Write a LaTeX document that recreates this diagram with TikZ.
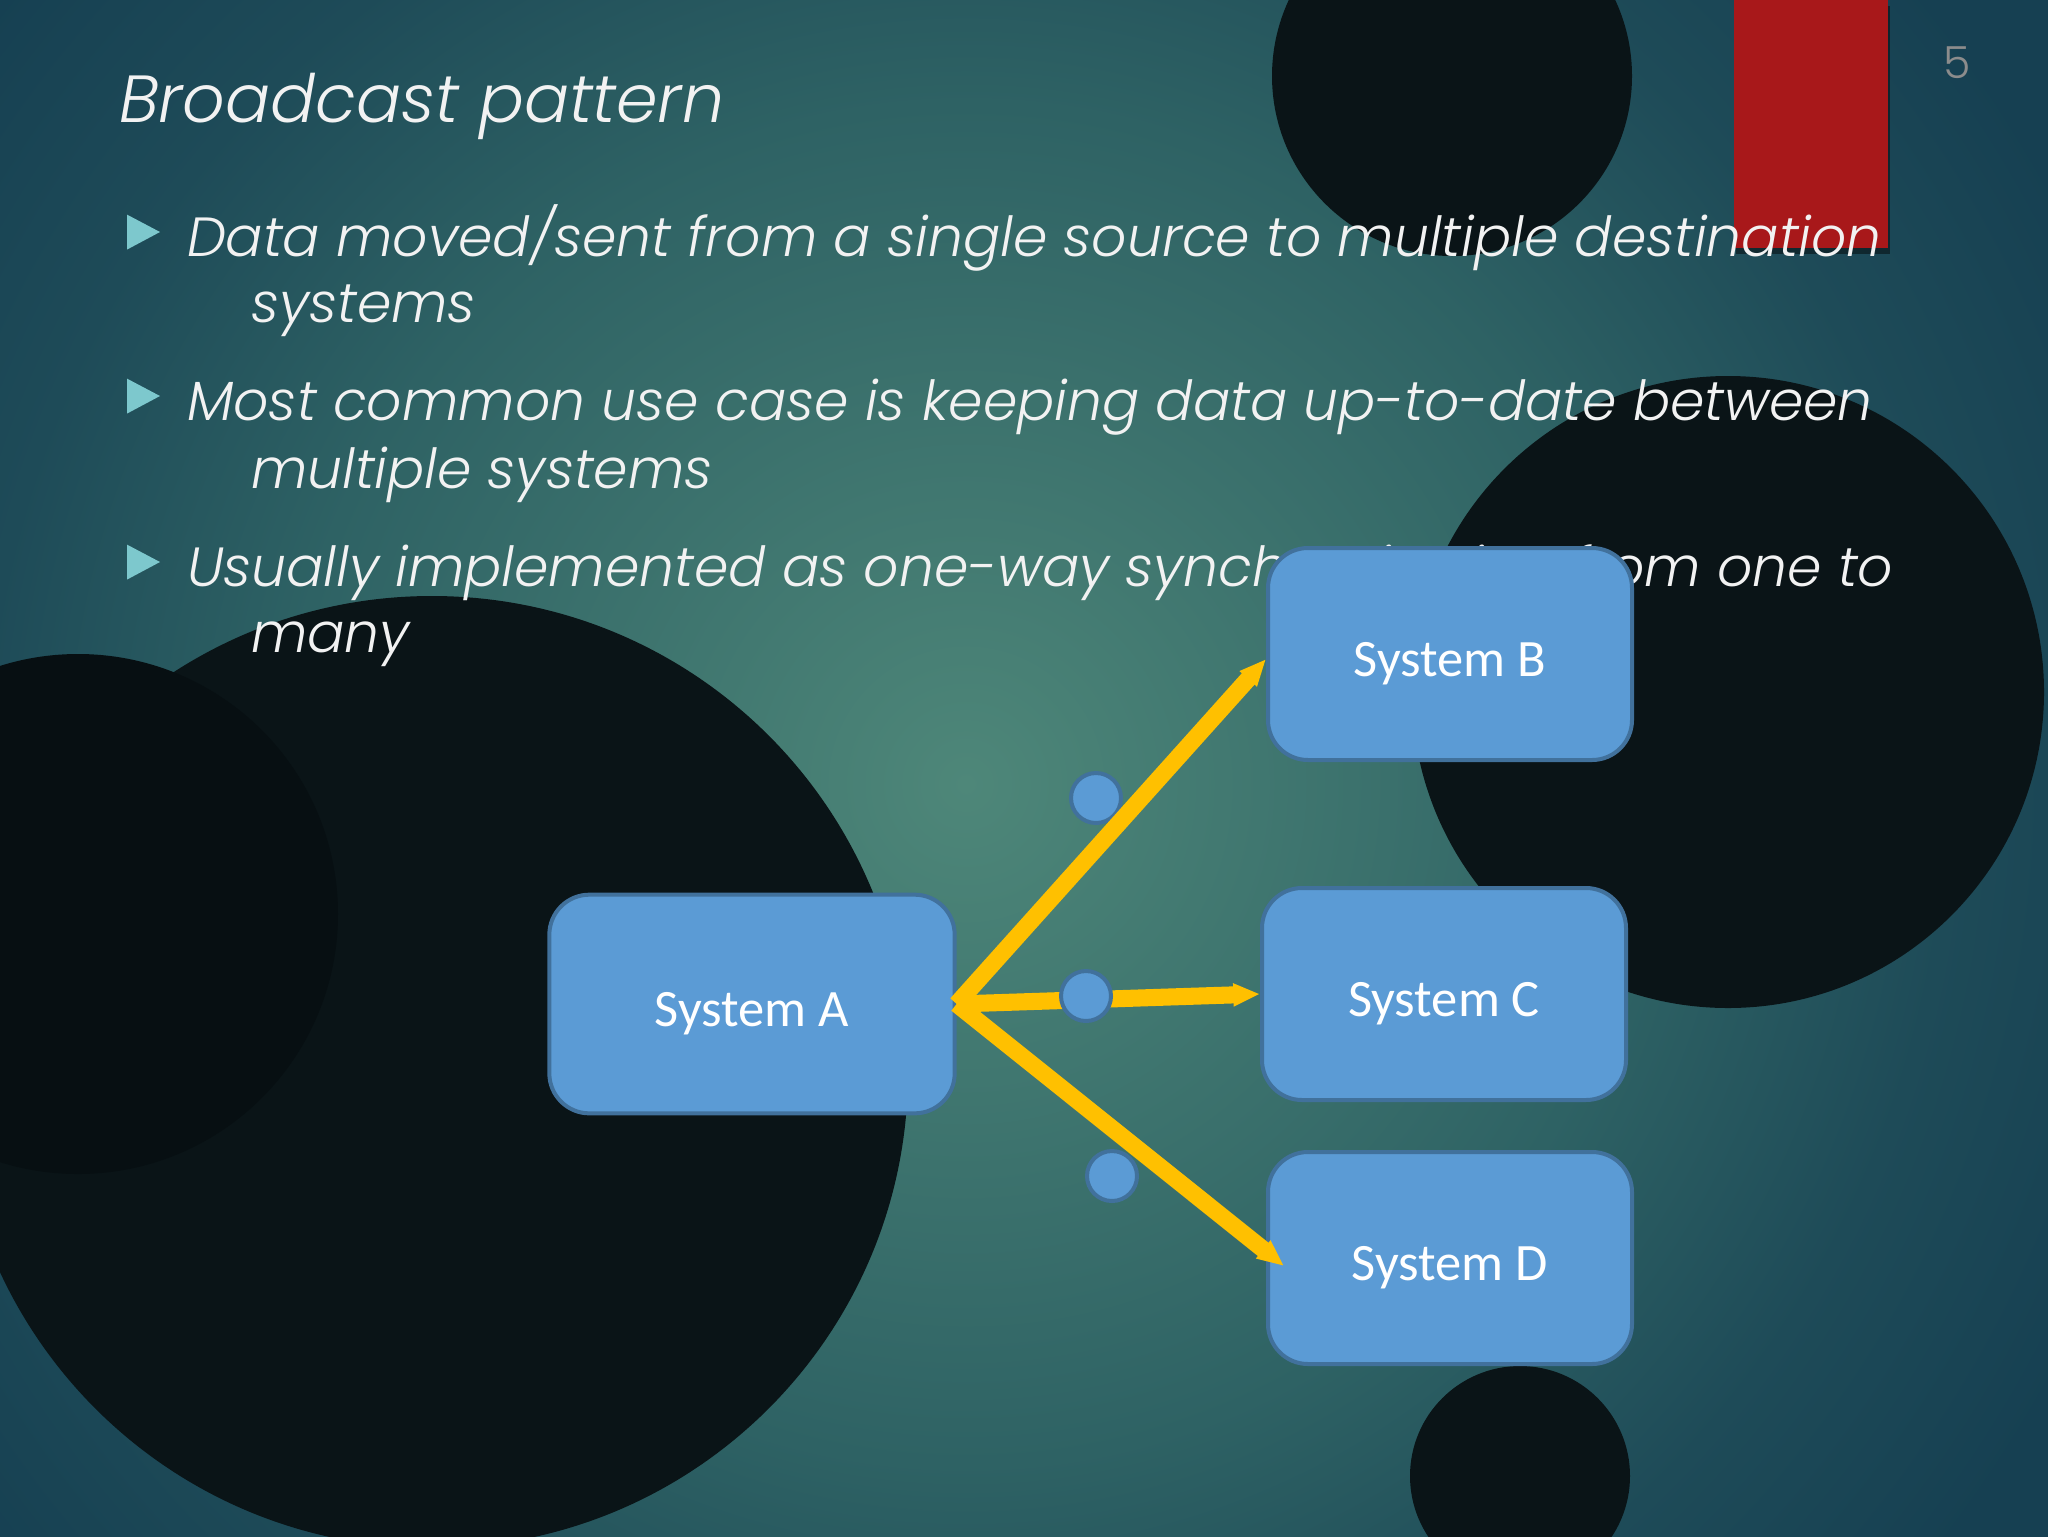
\documentclass[tikz,border=0pt]{standalone}
\usepackage{fontspec}
\setmainfont{Carlito}
\newfontfamily\gothic{Poppins}[UprightFont=* Light, ItalicFont=* Light Italic]
\usetikzlibrary{arrows.meta}

\definecolor{bgcenter}{RGB}{78,135,121}
\definecolor{bgmid}{RGB}{46,98,100}
\definecolor{bgouter}{RGB}{30,75,88}
\definecolor{bgedge}{RGB}{22,64,82}
\definecolor{disc}{RGB}{10,20,23}
\definecolor{discdeep}{RGB}{7,15,18}
\definecolor{slidered}{RGB}{168,24,26}
\definecolor{bullettick}{RGB}{125,200,205}
\definecolor{boxfill}{RGB}{91,155,213}
\definecolor{boxline}{RGB}{65,113,156}
\definecolor{flow}{RGB}{255,192,0}

\pgfdeclareradialshading{slideglow}{\pgfpoint{0bp}{0bp}}{%
  color(0bp)=(bgcenter); color(254bp)=(bgmid); color(368bp)=(bgouter);
  color(465bp)=(bgedge); color(720bp)=(bgedge)}

\tikzset{every picture/.style={line width=0.75pt}}
\tikzset{
  sysbox/.style={draw=boxline, fill=boxfill, line width=1.5pt, rounded corners=15pt,
    text=white, font=\fontsize{19.7}{23}\selectfont, inner sep=0pt,
    text height=16.5pt, text depth=0pt},
  token/.style={circle, draw=boxline, fill=boxfill, line width=1.5pt,
    minimum size=18.75pt, inner sep=0pt},
  flowline/.style={draw=flow, line width=6.4pt, -{Triangle[length=10pt,width=8pt]}},
  slidetext/.style={anchor=base west, inner sep=0pt, text=white!95!black,
    font=\gothic\itshape\fontsize{20.7}{25}\selectfont},
  tick/.style={fill=bullettick, draw=none}
}

\begin{document}
\begin{tikzpicture}[x=0.75pt,y=0.75pt,yscale=-1,xscale=1]
\useasboundingbox (0,0) rectangle (1024,768);

%Background
\begin{scope}
\clip (0,0) rectangle (1024,768);
\fill[bgedge] (0,0) rectangle (1024,768);
\node[inner sep=0pt, outer sep=0pt] (glow) at (483,392) {\pgfuseshading{slideglow}};
\end{scope}

%Shape: Circles
\fill[disc] (216,536) circle (238);
\fill[discdeep] (39,457) circle (130);
\fill[disc] (726,38) circle (90);
\fill[disc] (864,346) circle (158);
\fill[disc] (760,738) circle (55);

%Shape: Rectangle
\fill[black, opacity=0.45] (868,3) rectangle (945,127);
\fill[slidered] (867,0) rectangle (944,124);

% Text Node
\node[anchor=base west, inner sep=0pt, text=white!95!black,
  font=\gothic\itshape\fontsize{25}{30}\selectfont] (title) at (59,61) {Broadcast pattern};
% Text Node
\node[anchor=base west, inner sep=0pt, text=gray!90,
  font=\gothic\fontsize{16.6}{20}\selectfont] (pagenum) at (971,39) {5};

%Bullets
\foreach \yb in {128,210,293}
  \fill[tick] (63.5,\yb-20.7) -- (63.5,\yb-3.2) -- (80,\yb-12) -- cycle;

% Text Node
\node[slidetext] (lineA) at (93,128) {Data moved/sent from a single source to multiple destination};
\node[slidetext] (lineAb) at (125,161) {systems};
\node[slidetext] (lineB) at (93,210) {Most common use case is keeping data up-to-date between};
\node[slidetext] (lineBb) at (125,244) {multiple systems};
\node[slidetext] (lineC) at (93,293) {Usually implemented as one-way synchronization from one to};
\node[slidetext] (lineCb) at (125,326) {many};

%Systems
\node[sysbox, minimum width=152pt, minimum height=82pt] (sysA) at (376,502) {System A};
\node[sysbox, minimum width=136.5pt, minimum height=79.5pt] (sysB) at (725,327) {System B};
\node[sysbox, minimum width=136.5pt, minimum height=79.5pt] (sysC) at (722,497) {System C};
\node[sysbox, minimum width=136.5pt, minimum height=79.5pt] (sysD) at (725,629) {System D};

%Tokens and flows
\node[token] (tokB) at (548,399) {};
\draw[flowline] (sysA.east) -- ([yshift=1.9pt]sysB.west);
\draw[flowline] (sysA.east) -- (sysC.west);
\draw[flowline] (sysA.east) -- ([xshift=6.75pt,yshift=3pt]sysD.west);
\node[token] (tokC) at (543,498) {};
\node[token] (tokD) at (556,588) {};

\end{tikzpicture}
\end{document}
